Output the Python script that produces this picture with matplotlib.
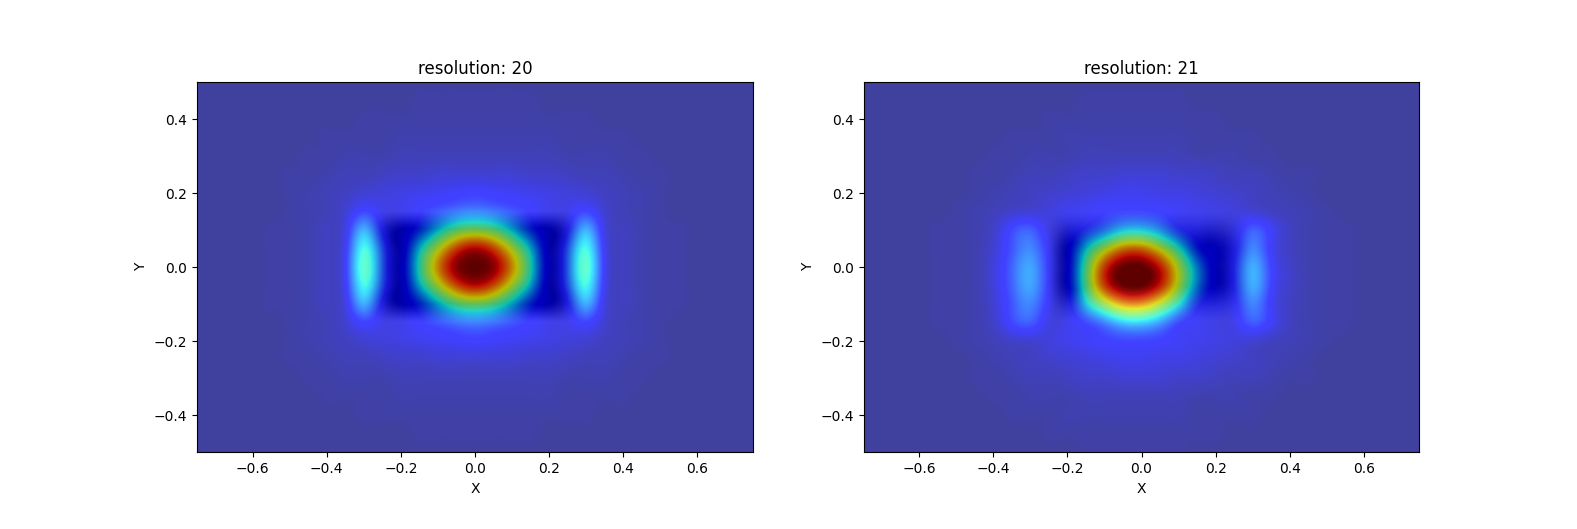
import numpy as np
import matplotlib
matplotlib.use("Agg")
import matplotlib.pyplot as plt

# grid: x from -0.75 to 0.75, y from 0.5 (top row) to -0.5, step 0.05
x_min, x_max = -0.75, 0.75
y_min, y_max = -0.5, 0.5
step = 0.05

titles = ["resolution: 20", "resolution: 21"]

# field intensity (x100), rows top -> bottom
field_20 = [
    [0, 0, 0, 0, 0, 0, 0, 0, 0, 0, 0, 0, 0, 0, 0, 0, 0, 0, 0, 0, 0, 0, 0, 0, 0, 0, 0, 0, 0, 0, 0],
    [0, 0, 0, 0, 0, 0, 0, 0, 0, 0, 0, 0, 1, 1, 1, 1, 1, 1, 1, 0, 0, 0, 0, 0, 0, 0, 0, 0, 0, 0, 0],
    [0, 0, 0, 0, 0, 0, 0, 0, 0, 1, 1, 1, 1, 1, 1, 1, 1, 1, 1, 1, 1, 1, 0, 0, 0, 0, 0, 0, 0, 0, 0],
    [0, 0, 0, 0, 0, 0, 0, 1, 1, 1, 1, 2, 2, 2, 2, 2, 2, 2, 2, 2, 1, 1, 1, 1, 0, 0, 0, 0, 0, 0, 0],
    [0, 0, 0, 0, 0, 0, 1, 1, 2, 2, 2, 3, 3, 3, 3, 3, 3, 3, 3, 3, 2, 2, 2, 1, 1, 0, 0, 0, 0, 0, 0],
    [0, 0, 0, 0, 0, 1, 1, 2, 3, 3, 4, 5, 5, 6, 6, 6, 6, 6, 5, 5, 4, 3, 3, 2, 1, 1, 0, 0, 0, 0, 0],
    [0, 0, 0, 0, 0, 1, 2, 3, 4, 6, 7, 8, 9, 10, 11, 12, 11, 10, 9, 8, 7, 6, 4, 3, 2, 1, 0, 0, 0, 0, 0],
    [0, 0, 0, 0, 0, 1, 2, 3, 6, 13, 9, 9, 12, 16, 20, 22, 20, 16, 12, 9, 9, 13, 6, 3, 2, 1, 0, 0, 0, 0, 0],
    [0, 0, 0, 0, 1, 1, 2, 4, 8, 27, 12, 9, 17, 33, 47, 52, 47, 33, 17, 9, 12, 27, 8, 4, 2, 1, 1, 0, 0, 0, 0],
    [0, 0, 0, 0, 1, 1, 2, 4, 10, 37, 18, 9, 33, 59, 81, 90, 81, 59, 33, 9, 18, 37, 10, 4, 2, 1, 1, 0, 0, 0, 0],
    [0, 0, 0, 0, 1, 1, 2, 4, 11, 41, 20, 10, 40, 72, 95, 100, 95, 72, 40, 10, 20, 41, 11, 4, 2, 1, 1, 0, 0, 0, 0],
    [0, 0, 0, 0, 1, 1, 2, 4, 10, 37, 18, 9, 33, 59, 81, 90, 81, 59, 33, 9, 18, 37, 10, 4, 2, 1, 1, 0, 0, 0, 0],
    [0, 0, 0, 0, 1, 1, 2, 4, 8, 27, 12, 9, 17, 33, 47, 52, 47, 33, 17, 9, 12, 27, 8, 4, 2, 1, 1, 0, 0, 0, 0],
    [0, 0, 0, 0, 0, 1, 2, 3, 6, 13, 9, 9, 12, 16, 20, 22, 20, 16, 12, 9, 9, 13, 6, 3, 2, 1, 0, 0, 0, 0, 0],
    [0, 0, 0, 0, 0, 1, 2, 3, 4, 6, 7, 8, 9, 10, 11, 12, 11, 10, 9, 8, 7, 6, 4, 3, 2, 1, 0, 0, 0, 0, 0],
    [0, 0, 0, 0, 0, 1, 1, 2, 3, 3, 4, 5, 5, 6, 6, 6, 6, 6, 5, 5, 4, 3, 3, 2, 1, 1, 0, 0, 0, 0, 0],
    [0, 0, 0, 0, 0, 0, 1, 1, 2, 2, 2, 3, 3, 3, 3, 3, 3, 3, 3, 3, 2, 2, 2, 1, 1, 0, 0, 0, 0, 0, 0],
    [0, 0, 0, 0, 0, 0, 0, 1, 1, 1, 1, 2, 2, 2, 2, 2, 2, 2, 2, 2, 1, 1, 1, 1, 0, 0, 0, 0, 0, 0, 0],
    [0, 0, 0, 0, 0, 0, 0, 0, 0, 1, 1, 1, 1, 1, 1, 1, 1, 1, 1, 1, 1, 1, 0, 0, 0, 0, 0, 0, 0, 0, 0],
    [0, 0, 0, 0, 0, 0, 0, 0, 0, 0, 0, 0, 1, 1, 1, 1, 1, 1, 1, 0, 0, 0, 0, 0, 0, 0, 0, 0, 0, 0, 0],
    [0, 0, 0, 0, 0, 0, 0, 0, 0, 0, 0, 0, 0, 0, 0, 0, 0, 0, 0, 0, 0, 0, 0, 0, 0, 0, 0, 0, 0, 0, 0],
]

field_21 = [
    [0, 0, 0, 0, 0, 0, 0, 0, 0, 0, 0, 0, 0, 0, 0, 0, 0, 0, 0, 0, 0, 0, 0, 0, 0, 0, 0, 0, 0, 0, 0],
    [0, 0, 0, 0, 0, 0, 0, 0, 0, 0, 0, 0, 1, 1, 1, 1, 1, 1, 0, 0, 0, 0, 0, 0, 0, 0, 0, 0, 0, 0, 0],
    [0, 0, 0, 0, 0, 0, 0, 0, 0, 0, 1, 1, 1, 1, 1, 1, 1, 1, 1, 1, 0, 0, 0, 0, 0, 0, 0, 0, 0, 0, 0],
    [0, 0, 0, 0, 0, 0, 0, 0, 1, 1, 1, 2, 2, 2, 2, 2, 2, 2, 1, 1, 1, 1, 0, 0, 0, 0, 0, 0, 0, 0, 0],
    [0, 0, 0, 0, 0, 0, 0, 1, 1, 2, 2, 2, 3, 3, 3, 3, 3, 3, 2, 2, 2, 1, 1, 0, 0, 0, 0, 0, 0, 0, 0],
    [0, 0, 0, 0, 0, 0, 1, 1, 2, 3, 3, 4, 5, 5, 6, 6, 6, 5, 5, 4, 3, 3, 2, 1, 1, 0, 0, 0, 0, 0, 0],
    [0, 0, 0, 0, 0, 0, 1, 2, 3, 4, 5, 6, 7, 8, 9, 9, 8, 8, 7, 6, 5, 4, 3, 2, 1, 0, 0, 0, 0, 0, 0],
    [0, 0, 0, 0, 0, 1, 2, 3, 5, 6, 7, 9, 10, 12, 13, 13, 12, 10, 9, 8, 7, 6, 4, 3, 2, 1, 0, 0, 0, 0, 0],
    [0, 0, 0, 0, 1, 1, 2, 5, 13, 16, 8, 9, 14, 22, 31, 32, 25, 14, 10, 8, 9, 16, 10, 4, 2, 1, 1, 0, 0, 0, 0],
    [0, 0, 0, 0, 1, 1, 2, 6, 15, 21, 10, 10, 33, 55, 71, 72, 58, 37, 15, 10, 11, 21, 10, 4, 2, 1, 1, 0, 0, 0, 0],
    [0, 0, 0, 0, 1, 1, 2, 7, 17, 25, 11, 11, 45, 80, 96, 97, 84, 56, 26, 10, 13, 26, 12, 5, 2, 1, 1, 0, 0, 0, 0],
    [0, 0, 0, 0, 1, 1, 2, 7, 17, 25, 11, 11, 45, 80, 96, 97, 84, 56, 26, 10, 13, 26, 12, 5, 2, 1, 1, 0, 0, 0, 0],
    [0, 0, 0, 0, 1, 1, 2, 6, 15, 21, 10, 10, 33, 55, 71, 72, 58, 37, 15, 10, 11, 21, 10, 4, 2, 1, 1, 0, 0, 0, 0],
    [0, 0, 0, 0, 1, 1, 2, 5, 13, 16, 8, 9, 14, 22, 31, 32, 25, 14, 10, 8, 9, 16, 10, 4, 2, 1, 1, 0, 0, 0, 0],
    [0, 0, 0, 0, 0, 1, 2, 3, 5, 6, 7, 9, 10, 12, 13, 13, 12, 10, 9, 8, 7, 6, 4, 3, 2, 1, 0, 0, 0, 0, 0],
    [0, 0, 0, 0, 0, 0, 1, 2, 3, 4, 5, 6, 7, 8, 9, 9, 8, 8, 7, 6, 5, 4, 3, 2, 1, 0, 0, 0, 0, 0, 0],
    [0, 0, 0, 0, 0, 0, 1, 1, 2, 3, 3, 4, 5, 5, 6, 6, 6, 5, 5, 4, 3, 3, 2, 1, 1, 0, 0, 0, 0, 0, 0],
    [0, 0, 0, 0, 0, 0, 0, 1, 1, 2, 2, 2, 3, 3, 3, 3, 3, 3, 2, 2, 2, 1, 1, 0, 0, 0, 0, 0, 0, 0, 0],
    [0, 0, 0, 0, 0, 0, 0, 0, 1, 1, 1, 2, 2, 2, 2, 2, 2, 2, 1, 1, 1, 1, 0, 0, 0, 0, 0, 0, 0, 0, 0],
    [0, 0, 0, 0, 0, 0, 0, 0, 0, 0, 1, 1, 1, 1, 1, 1, 1, 1, 1, 1, 0, 0, 0, 0, 0, 0, 0, 0, 0, 0, 0],
    [0, 0, 0, 0, 0, 0, 0, 0, 0, 0, 0, 0, 1, 1, 1, 1, 1, 1, 0, 0, 0, 0, 0, 0, 0, 0, 0, 0, 0, 0, 0],
]

# permittivity block (0 = air, 1 = dielectric), rows y = 0.1 .. -0.1; all other rows are air
eps_rows_20 = [
    [0, 0, 0, 0, 0, 0, 0, 0, 0, 0, .5, 1, 1, 1, 1, 1, 1, 1, 1, 1, .5, 0, 0, 0, 0, 0, 0, 0, 0, 0, 0],
    [0, 0, 0, 0, 0, 0, 0, 0, 0, 0, .5, 1, 1, 1, 1, 1, 1, 1, 1, 1, .5, 0, 0, 0, 0, 0, 0, 0, 0, 0, 0],
    [0, 0, 0, 0, 0, 0, 0, 0, 0, 0, .5, 1, 1, 1, 1, 1, 1, 1, 1, 1, .5, 0, 0, 0, 0, 0, 0, 0, 0, 0, 0],
    [0, 0, 0, 0, 0, 0, 0, 0, 0, 0, .5, 1, 1, 1, 1, 1, 1, 1, 1, 1, .5, 0, 0, 0, 0, 0, 0, 0, 0, 0, 0],
    [0, 0, 0, 0, 0, 0, 0, 0, 0, 0, .5, 1, 1, 1, 1, 1, 1, 1, 1, 1, .5, 0, 0, 0, 0, 0, 0, 0, 0, 0, 0],
]
eps_rows_21 = [
    [0, 0, 0, 0, 0, 0, 0, 0, 0, 0, .05, .45, .45, .45, .45, .45, .45, .45, .45, .45, .22, 0, 0, 0, 0, 0, 0, 0, 0, 0, 0],
    [0, 0, 0, 0, 0, 0, 0, 0, 0, 0, .1, 1, 1, 1, 1, 1, 1, 1, 1, 1, .5, 0, 0, 0, 0, 0, 0, 0, 0, 0, 0],
    [0, 0, 0, 0, 0, 0, 0, 0, 0, 0, .1, 1, 1, 1, 1, 1, 1, 1, 1, 1, .5, 0, 0, 0, 0, 0, 0, 0, 0, 0, 0],
    [0, 0, 0, 0, 0, 0, 0, 0, 0, 0, .1, 1, 1, 1, 1, 1, 1, 1, 1, 1, .5, 0, 0, 0, 0, 0, 0, 0, 0, 0, 0],
    [0, 0, 0, 0, 0, 0, 0, 0, 0, 0, .05, .45, .45, .45, .45, .45, .45, .45, .45, .45, .22, 0, 0, 0, 0, 0, 0, 0, 0, 0, 0],
]


def eps_grid(rows):
    # air above and below the block (8 rows each)
    grid = np.zeros((21, 31))
    grid[8:13] = np.array(rows)
    return grid


fields = [np.array(field_20, dtype=float), np.array(field_21, dtype=float)]
eps_list = [eps_grid(eps_rows_20), eps_grid(eps_rows_21)]

extent = [x_min - step / 2, x_max + step / 2, y_min - step / 2, y_max + step / 2]

fig, axes = plt.subplots(1, 2, figsize=(15.77, 5.29), dpi=100)

for ax, field, eps, title in zip(axes, fields, eps_list, titles):
    ax.imshow(eps, extent=extent, cmap='binary', vmin=0, vmax=1,
              interpolation='spline36', origin='upper')
    ax.imshow(field, extent=extent, cmap='jet', alpha=0.75,
              interpolation='spline36', origin='upper')
    ax.set_xlim(x_min, x_max)
    ax.set_ylim(y_min, y_max)
    ax.set_xlabel('X')
    ax.set_ylabel('Y')
    ax.set_title(title)

plt.savefig('out.png')
